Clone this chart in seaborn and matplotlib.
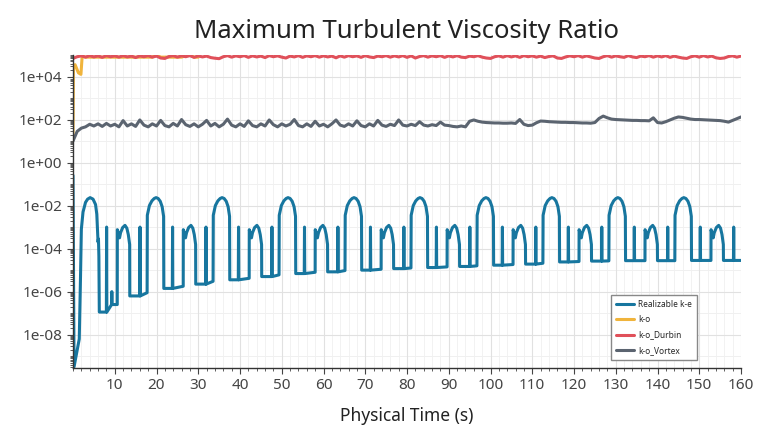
import numpy as np
import pandas as pd
import seaborn as sns
import matplotlib
matplotlib.use('Agg')
import matplotlib.pyplot as plt
from matplotlib.ticker import LogLocator, FixedLocator, MultipleLocator, FuncFormatter, NullFormatter

sns.set_style('whitegrid')
plt.rcParams['font.family'] = ['Noto Sans', 'DejaVu Sans']

models = ['Realizable k-e', 'k-o', 'k-o_Durbin', 'k-o_Vortex']
colors = ['#17769f', '#f0b43c', '#e0505a', '#5b6470']

# --- Realizable k-e (values are log10 of the ratio) ---
# first seconds, up to the end of the first big hump
ke_start_t = [0.0, 0.25, 1.5, 1.8, 2.0, 2.4, 3.0, 3.5, 4.1, 4.8, 5.4, 5.7, 6.0, 6.1, 6.2, 6.3]
ke_start_v = [-0.6, -9.5, -8.2, -5.3, -3.1, -2.3, -1.85, -1.7, -1.63, -1.7, -1.95, -2.4, -3.7, -3.55, -4.35, -6.95]
# times of the big humps
ke_peaks = [4.1, 19.9, 35.7, 51.5, 67.3, 83.1, 98.9, 114.7, 130.5, 146.3]
# shape of a big hump around its peak
big_dt = [-2.1, -1.6, -1.0, -0.45, 0.0, 0.5, 1.0, 1.45, 1.8]
big_v = [-2.45, -2.0, -1.78, -1.67, -1.63, -1.67, -1.8, -2.05, -2.5]
# shape of the small hump, from its rise
small_dt = [0.02, 0.55, 0.8, 1.3, 1.85, 2.3, 2.65, 2.97]
small_v = [-3.12, -3.5, -3.26, -3.02, -2.92, -3.05, -3.35, -3.81]
spike_v = -3.0
# floor level: after big hump (start, end), after small hump (start, end)
floor_a0 = [-6.95, -5.85, -5.45, -5.16, -5.0, -4.88, -4.77, -4.62, -4.56, -4.55]
floor_a1 = [-6.6, -5.75, -5.38, -5.1, -4.96, -4.85, -4.74, -4.6, -4.56, -4.55]
floor_b0 = [-6.2, -5.65, -5.3, -5.08, -4.93, -4.83, -4.72, -4.58, -4.56, -4.55]
floor_b1 = [-6.05, -5.52, -5.22, -5.02, -4.9, -4.8, -4.68, -4.57, -4.56, -4.55]

# --- k-o ---
ko_t = [0.0, 0.1, 0.5, 1.3, 1.9, 2.2, 3, 5, 8, 11, 14, 17, 19, 19.6, 20.2, 21, 23, 26, 27.4, 28.2, 29, 30]
ko_v = [1.2, 4.5, 4.55, 4.17, 4.1, 4.95, 4.9, 4.9, 4.9, 4.9, 4.9, 4.9, 4.9, 4.99, 4.99, 4.9, 4.9, 4.9, 4.99, 4.99, 4.9, 4.9]

# --- k-o_Durbin, one value per second ---
durbin_v = [
    4.84, 4.92, 4.96, 4.90, 4.97, 4.91, 4.96, 4.89, 4.97, 4.92,
    4.96, 4.90, 4.97, 4.91, 4.95, 4.88, 4.96, 4.92, 4.97, 4.90,
    4.95, 4.86, 4.84, 4.93, 4.97, 4.90, 4.96, 4.92, 4.97, 4.89,
    4.96, 4.91, 4.95, 4.88, 4.85, 4.83, 4.92, 4.97, 4.90, 4.96,
    4.92, 4.97, 4.89, 4.96, 4.91, 4.95, 4.88, 4.97, 4.92, 4.96,
    4.90, 4.86, 4.95, 4.91, 4.97, 4.89, 4.96, 4.92, 4.97, 4.90,
    4.96, 4.91, 4.95, 4.87, 4.96, 4.90, 4.97, 4.92, 4.96, 4.89,
    4.97, 4.91, 4.88, 4.95, 4.92, 4.97, 4.90, 4.96, 4.91, 4.97,
    4.89, 4.96, 4.86, 4.93, 4.97, 4.90, 4.96, 4.92, 4.97, 4.89,
    4.96, 4.91, 4.97, 4.90, 4.88, 4.95, 4.92, 4.97, 4.90, 4.86,
    4.84, 4.92, 4.96, 4.90, 4.97, 4.91, 4.96, 4.89, 4.97, 4.92,
    4.96, 4.90, 4.95, 4.88, 4.93, 4.96, 4.86, 4.84, 4.91, 4.96,
    4.92, 4.97, 4.90, 4.96, 4.91, 4.86, 4.84, 4.92, 4.97, 4.90,
    4.96, 4.92, 4.89, 4.97, 4.91, 4.88, 4.95, 4.92, 4.97, 4.90,
    4.96, 4.91, 4.97, 4.89, 4.95, 4.90, 4.86, 4.84, 4.92, 4.96,
    4.90, 4.97, 4.91, 4.95, 4.87, 4.84, 4.86, 4.93, 4.96, 4.90,
    4.95]

# --- k-o_Vortex, one value per second ---
vortex_v = [
    1.00, 1.45, 1.60, 1.66, 1.78, 1.70, 1.80, 1.68, 1.82, 1.70,
    1.78, 1.66, 1.95, 1.70, 1.80, 1.68, 1.98, 1.74, 1.66, 1.80,
    1.70, 1.96, 1.72, 1.66, 1.82, 1.70, 2.00, 1.76, 1.68, 1.80,
    1.66, 1.78, 1.96, 1.70, 1.82, 1.66, 1.78, 2.02, 1.74, 1.66,
    1.80, 1.68, 1.94, 1.72, 1.66, 1.80, 1.70, 1.98, 1.76, 1.66,
    1.80, 1.70, 1.78, 2.00, 1.72, 1.66, 1.80, 1.68, 1.92, 1.70,
    1.78, 1.66, 1.80, 1.98, 1.74, 1.68, 1.80, 1.70, 1.94, 1.72,
    1.66, 1.80, 1.70, 1.96, 1.74, 1.68, 1.78, 1.72, 1.98, 1.74,
    1.70, 1.78, 1.72, 1.90, 1.74, 1.70, 1.76, 1.72, 1.88, 1.74,
    1.72, 1.68, 1.66, 1.70, 1.66, 1.92, 1.98, 1.92, 1.88, 1.86,
    1.85, 1.84, 1.84, 1.83, 1.83, 1.84, 1.82, 2.00, 1.78, 1.72,
    1.74, 1.85, 1.93, 1.92, 1.90, 1.89, 1.88, 1.87, 1.87, 1.86,
    1.86, 1.85, 1.84, 1.84, 1.83, 1.86, 2.05, 2.16, 2.08, 2.02,
    2.00, 1.99, 1.98, 1.97, 1.96, 1.96, 1.95, 1.95, 1.94, 2.08,
    1.86, 1.84, 1.90, 1.98, 2.06, 2.12, 2.10, 2.06, 2.02, 2.00,
    2.00, 1.99, 1.98, 1.97, 1.96, 1.95, 1.92, 1.88, 1.96, 2.04,
    2.12]


def spike(t, v, at, floor):
    t += [at - 0.06, at, at + 0.06]
    v += [floor, spike_v, floor]


# assemble the k-e curve from the pieces above
ke_t, ke_v = list(ke_start_t), list(ke_start_v)
for k, p in enumerate(ke_peaks):
    if k > 0:
        ke_t.append(p - 2.15)
        ke_v.append(floor_b1[k - 1])
        ke_t += [p + d for d in big_dt]
        ke_v += big_v
        ke_t.append(p + 1.85)
        ke_v.append(floor_a0[k])
    spike(ke_t, ke_v, p + 3.95, floor_a0[k])
    if k == 0:
        ke_t += [9.25, 9.3, 9.35]
        ke_v += [-6.6, -6.0, -6.6]
    rise = p + 6.5
    ke_t.append(rise)
    ke_v.append(floor_a1[k])
    ke_t += [rise + d for d in small_dt]
    ke_v += small_v
    ke_t.append(rise + 3.0)
    ke_v.append(floor_b0[k])
    spike(ke_t, ke_v, p + 11.95, floor_b0[k])
ke_t.append(160.0)
ke_v.append(floor_b1[-1])

secs = np.arange(0, 161)
series = [
    (models[0], ke_t, ke_v),
    (models[1], ko_t, ko_v),
    (models[2], secs, durbin_v),
    (models[3], secs, vortex_v),
]
df = pd.concat([pd.DataFrame({'time': np.asarray(t, float), 'ratio': 10.0 ** np.asarray(v, float), 'model': m})
                for m, t, v in series], ignore_index=True)

fig, ax = plt.subplots(figsize=(7.68, 4.32), dpi=100)
fig.subplots_adjust(left=73 / 768, right=741 / 768, top=1 - 55 / 432, bottom=1 - 368 / 432)

sns.lineplot(data=df, x='time', y='ratio', hue='model', hue_order=models, palette=colors,
             estimator=None, sort=False, linewidth=2.2, ax=ax)
ax.set_yscale('log')
ax.set_xlim(0, 160)
ax.set_ylim(10 ** -9.55, 1e5)

ax.xaxis.set_major_locator(FixedLocator(range(10, 161, 10)))
ax.xaxis.set_minor_locator(MultipleLocator(2))
ax.yaxis.set_major_locator(FixedLocator([10.0 ** e for e in range(-8, 5, 2)]))
ax.yaxis.set_major_formatter(FuncFormatter(lambda y, pos: f'{y:.0e}'))
ax.yaxis.set_minor_locator(LogLocator(base=10, subs=np.arange(1, 10), numticks=100))
ax.yaxis.set_minor_formatter(NullFormatter())

ax.grid(which='major', color='#e1e1e1', linewidth=0.8)
ax.grid(which='minor', axis='x', color='#f0f0f0', linewidth=0.6)
ax.grid(which='minor', axis='y', visible=False)
for e in range(-9, 5, 2):
    ax.axhline(10.0 ** e, color='#eeeeee', linewidth=0.6, zorder=0)
ax.tick_params(which='both', left=True, bottom=True, direction='out', colors='#444444', labelsize=11)
ax.tick_params(which='major', length=4, width=0.8)
ax.tick_params(which='minor', length=2, width=0.6)
for s in ['top', 'right']:
    ax.spines[s].set_visible(False)
for s in ['left', 'bottom']:
    ax.spines[s].set_color('#333333')
    ax.spines[s].set_linewidth(1.0)

ax.set_title('Maximum Turbulent Viscosity Ratio', fontsize=18.5, color='#222222', pad=12)
ax.set_xlabel('Physical Time (s)', fontsize=12.5, color='#222222', labelpad=10)
ax.set_ylabel('')

h, l = ax.get_legend_handles_labels()
ax.legend(h, l, loc='lower right', bbox_to_anchor=(0.934, 0.026), borderaxespad=0, fontsize=6,
          frameon=True, fancybox=False, edgecolor='#888888', framealpha=1, handlelength=2.2,
          labelspacing=0.75, borderpad=0.6, handletextpad=0.5)

fig.savefig('out.png', dpi=100)
